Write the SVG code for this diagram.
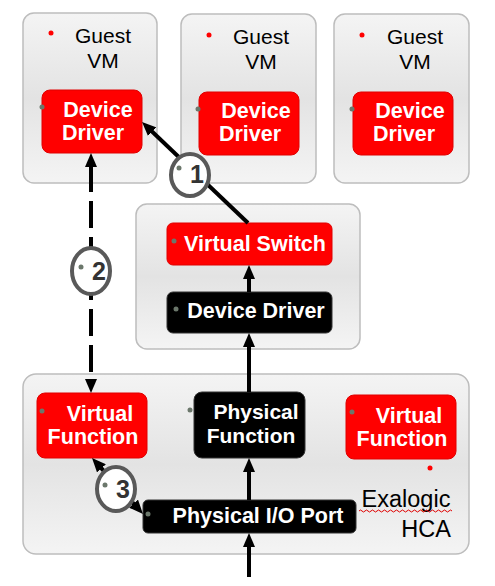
<svg xmlns="http://www.w3.org/2000/svg" width="495" height="586" viewBox="0 0 495 586">
<defs>
<linearGradient id="cg" x1="0" y1="0" x2="0" y2="1">
<stop offset="0" stop-color="#f4f4f4"/>
<stop offset="0.5" stop-color="#e3e3e3"/>
<stop offset="1" stop-color="#f4f4f4"/>
</linearGradient>
<marker id="ah" viewBox="0 0 14 12" refX="2" refY="6" markerWidth="14" markerHeight="12" markerUnits="userSpaceOnUse" orient="auto-start-reverse">
<path d="M0,0 L14,6 L0,12 z" fill="#000"/>
</marker>
</defs>
<style>
.cont{fill:url(#cg);stroke:#bdbdbd;stroke-width:1.5}
.red{fill:#ff0000;stroke:#e00000;stroke-width:1}
.blk{fill:#000;stroke:#333;stroke-width:1}
.bt{font-family:"Liberation Sans",Arial,sans-serif;font-weight:bold;font-size:21.5px;fill:#fff;text-anchor:middle}
.rt{font-family:"Liberation Sans",Arial,sans-serif;font-size:21px;fill:#000;text-anchor:middle}
.nt{font-family:"Liberation Sans",Arial,sans-serif;font-weight:bold;font-size:25px;fill:#333;text-anchor:middle}
.gd{fill:#6b776b}
.rd{fill:#ff0000}
.ln{stroke:#000;stroke-width:4;fill:none}
.badge{fill:#fff;stroke:#595959;stroke-width:4}
</style>

<g id="guest-vm-1">
<rect class="cont" x="23" y="13" width="134" height="170" rx="11"/>
<circle class="rd" cx="51" cy="33" r="2.5"/>
<text class="rt" x="103" y="43">Guest</text>
<text class="rt" x="103" y="68">VM</text>
<g id="device-driver-1">
<rect class="red" x="42" y="90" width="100" height="63" rx="8"/>
<circle class="gd" cx="42" cy="107" r="2.5"/>
<text class="bt" x="98" y="117">Device</text>
<text class="bt" x="93" y="140">Driver</text>
</g>
</g>

<g id="guest-vm-2">
<rect class="cont" x="181" y="14" width="135" height="169" rx="11"/>
<circle class="rd" cx="209" cy="35" r="2.5"/>
<text class="rt" x="261" y="44">Guest</text>
<text class="rt" x="261" y="69">VM</text>
<g id="device-driver-2">
<rect class="red" x="199" y="92" width="100" height="63" rx="8"/>
<circle class="gd" cx="198" cy="109" r="2.5"/>
<text class="bt" x="256" y="118">Device</text>
<text class="bt" x="250" y="141">Driver</text>
</g>
</g>

<g id="guest-vm-3">
<rect class="cont" x="334" y="14" width="135" height="169" rx="11"/>
<circle class="rd" cx="362" cy="35" r="2.5"/>
<text class="rt" x="415" y="44">Guest</text>
<text class="rt" x="415" y="69">VM</text>
<g id="device-driver-3">
<rect class="red" x="353" y="92" width="100" height="63" rx="8"/>
<circle class="gd" cx="352" cy="109" r="2.5"/>
<text class="bt" x="410" y="118">Device</text>
<text class="bt" x="404" y="141">Driver</text>
</g>
</g>

<g id="hypervisor">
<rect class="cont" x="136" y="204" width="224" height="145" rx="11"/>
<g id="virtual-switch">
<rect class="red" x="167" y="223" width="165" height="42" rx="6"/>
<circle class="gd" cx="174" cy="241" r="2.5"/>
<text class="bt" x="255" y="251">Virtual Switch</text>
</g>
<g id="device-driver-host">
<rect class="blk" x="167" y="292" width="165" height="41" rx="6"/>
<circle class="gd" cx="176" cy="309" r="2.5"/>
<text class="bt" x="256" y="318">Device Driver</text>
</g>
</g>

<g id="exalogic-hca">
<rect class="cont" x="23" y="374" width="446" height="180" rx="13"/>
<text class="rt" x="406" y="507" style="font-size:23.5px">Exalogic</text>
<path d="M359,511 q1.5,-2 3,0 t3,0 t3,0 t3,0 t3,0 t3,0 t3,0 t3,0 t3,0 t3,0 t3,0 t3,0 t3,0 t3,0 t3,0 t3,0 t3,0 t3,0 t3,0 t3,0 t3,0 t3,0 t3,0 t3,0 t3,0 t3,0 t3,0 t3,0 t3,0 t3,0 t3,0" fill="none" stroke="#e00000" stroke-width="1"/>
<text class="rt" x="426" y="537" style="font-size:23.5px">HCA</text>
<circle class="rd" cx="430" cy="468" r="2.5"/>
<g id="virtual-function-1">
<rect class="red" x="37" y="393" width="110" height="65" rx="8"/>
<circle class="gd" cx="42" cy="411" r="2.5"/>
<text class="bt" x="100" y="421">Virtual</text>
<text class="bt" x="93" y="444">Function</text>
</g>
<g id="physical-function">
<rect class="blk" x="194" y="392" width="111" height="66" rx="8"/>
<circle class="gd" cx="190" cy="410" r="2.5"/>
<text class="bt" x="256" y="419" style="font-size:21px">Physical</text>
<text class="bt" x="251" y="443" style="font-size:21px">Function</text>
</g>
<g id="virtual-function-2">
<rect class="red" x="346" y="395" width="110" height="64" rx="8"/>
<circle class="gd" cx="352" cy="412" r="2.5"/>
<text class="bt" x="409" y="423">Virtual</text>
<text class="bt" x="402" y="446">Function</text>
</g>
<g id="physical-io-port">
<rect class="blk" x="143" y="500" width="213" height="33" rx="5"/>
<circle class="gd" cx="148" cy="514" r="2.5"/>
<text class="bt" x="258" y="523">Physical I/O Port</text>
</g>
</g>

<g id="connectors">
<line class="ln" x1="248" y1="223" x2="150.7" y2="130.3" marker-end="url(#ah)"/>
<line class="ln" x1="91" y1="165" x2="91" y2="381" stroke-dasharray="27 9" marker-start="url(#ah)" marker-end="url(#ah)"/>
<line class="ln" x1="100.1" y1="466.9" x2="134.9" y2="505.1" marker-start="url(#ah)" marker-end="url(#ah)"/>
<line class="ln" x1="249" y1="577" x2="249" y2="545" marker-end="url(#ah)"/>
<line class="ln" x1="249" y1="500" x2="249" y2="470" marker-end="url(#ah)"/>
<line class="ln" x1="249" y1="392" x2="249" y2="345" marker-end="url(#ah)"/>
<line class="ln" x1="249" y1="292" x2="249" y2="277" marker-end="url(#ah)"/>
</g>

<g id="badge-1">
<ellipse class="badge" cx="190" cy="175" rx="19" ry="21"/>
<circle class="gd" cx="179" cy="168" r="2.5"/>
<text class="nt" x="197" y="183">1</text>
</g>
<g id="badge-2">
<ellipse class="badge" cx="91" cy="271" rx="19" ry="23"/>
<circle class="gd" cx="81" cy="267" r="2.5"/>
<text class="nt" x="99" y="280">2</text>
</g>
<g id="badge-3">
<ellipse class="badge" cx="116" cy="489" rx="19" ry="22"/>
<circle class="gd" cx="105" cy="485" r="2.5"/>
<text class="nt" x="123" y="498">3</text>
</g>
</svg>
